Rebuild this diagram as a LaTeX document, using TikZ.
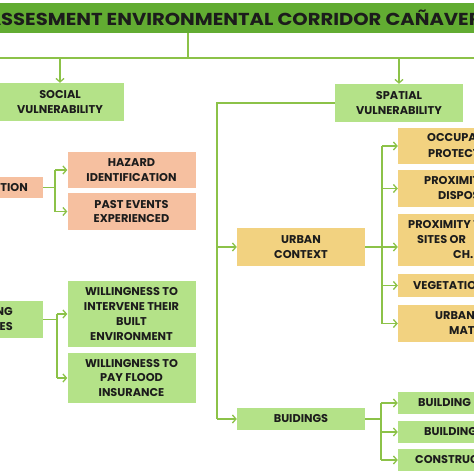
\documentclass[tikz,border=0pt]{standalone}
\usepackage{fontspec}
\setmainfont{Poppins}
\usetikzlibrary{arrows.meta}
\definecolor{titleg}{RGB}{98,172,50}
\definecolor{lineg}{RGB}{140,194,72}
\definecolor{boxg}{RGB}{180,226,136}
\definecolor{boxs}{RGB}{246,192,160}
\definecolor{boxy}{RGB}{242,210,128}
\definecolor{txt}{RGB}{28,28,28}
\tikzset{
  boxbase/.style={inner sep=0pt, minimum width=128, text=txt, align=center,
    font=\bfseries\fontsize{11.3}{14.7}\selectfont},
  gbox/.style={boxbase, fill=boxg},
  sbox/.style={boxbase, fill=boxs},
  ybox/.style={boxbase, fill=boxy},
  lbl/.style={inner sep=0pt, text=txt, font=\bfseries\fontsize{11.3}{14.7}\selectfont},
  conn/.style={draw=lineg, line width=1.5pt},
  arr/.style={conn, -{Straight Barb[length=3.5pt,width=8pt,line width=1.3pt]}},
}
\begin{document}
\begin{tikzpicture}[x=1pt,y=-1pt]
\useasboundingbox (0,0) rectangle (474,474);
\clip (0,0) rectangle (474,474);
\fill[white] (0,0) rectangle (474,474);
% title bar
\node[fill=titleg, inner sep=0pt, minimum width=500, minimum height=30] (titlebar) at (237,18) {};
\node[lbl, anchor=west, font=\bfseries\fontsize{17.3}{20}\selectfont] (title) at (1,18)
  {\scalebox{1.13}[1]{\llap{A}SSESMENT ENVIRONMENTAL CORRIDOR CAÑAVER\rlap{AL}}};
% level 1
\node[gbox, minimum height=38] (social) at (60,102) {SOCIAL\\VULNERABILITY};
\node[gbox, minimum height=38] (spatial) at (399,103) {SPATIAL\\VULNERABILITY};
% left side
\node[sbox, minimum height=21] (perc) at (-21,187.5) {};
\node[lbl, anchor=east] (perct) at (28,188) {PERCEPTION};
\node[sbox, minimum height=36] (hazard) at (131.5,170) {HAZARD\\IDENTIFICATION};
\node[sbox, minimum height=37] (past) at (131.5,211.5) {PAST EVENTS\\EXPERIENCED};
\node[gbox, minimum height=37] (cop) at (-21,319.5) {};
\node[lbl, anchor=east] (copt1) at (13,312) {COPING};
\node[lbl, anchor=east] (copt2) at (13,327) {CAPACITIES};
\node[gbox, minimum height=66] (will1) at (131.5,314) {WILLINGNESS TO\\INTERVENE THEIR\\BUILT\\ENVIRONMENT};
\node[gbox, minimum height=50] (will2) at (131.5,378) {WILLINGNESS TO\\PAY FLOOD\\INSURANCE};
% right side
\node[ybox, minimum height=38] (urban) at (301,247) {URBAN\\CONTEXT};
\node[gbox, minimum height=22] (build) at (301,419) {BUIDINGS};
\node[ybox, minimum height=36] (r1) at (462,146) {};
\node[lbl, anchor=west] (r1a) at (427,138) {OCCUPATION};
\node[lbl, anchor=west] (r1b) at (428,154) {PROTECTED};
\node[ybox, minimum height=37] (r2) at (462,188.5) {};
\node[lbl, anchor=west] (r2a) at (424,181) {PROXIMITY};
\node[lbl, anchor=west] (r2b) at (438,196) {DISPOSAL};
\node[ybox, minimum height=52] (r3) at (462,240) {};
\node[lbl, anchor=west] (r3a) at (408,225) {PROXIMITY TO};
\node[lbl, anchor=west] (r3b) at (417,240) {SITES OR};
\node[lbl, anchor=west] (r3c) at (453,255) {CH.};
\node[ybox, minimum height=23] (r4) at (462,285.5) {};
\node[lbl, anchor=west] (r4a) at (413,285.5) {VEGETATION};
\node[ybox, minimum height=37] (r5) at (462,323.5) {};
\node[lbl, anchor=west] (r5a) at (435,316) {URBAN};
\node[lbl, anchor=west] (r5b) at (449,331) {MATERIALS};
\node[gbox, minimum height=22] (b1) at (462,403) {};
\node[lbl, anchor=west] (b1a) at (418,403) {BUILDING};
\node[gbox, minimum height=22] (b2) at (462,432) {};
\node[lbl, anchor=west] (b2a) at (424,432) {BUILDING};
\node[gbox, minimum height=22] (b3) at (462,460) {};
\node[lbl, anchor=west] (b3a) at (415,460) {CONSTRUCTION};
% connectors: top
\coordinate (t0) at (188,58);
\coordinate (tl) at (-5,58);
\coordinate (tr) at (480,58);
\draw[conn] (titlebar.south -| t0) -- (t0);
\draw[conn] (tl) -- (tr);
\draw[arr] (social.north |- t0) -- (social.north);
\draw[arr] (spatial.north |- t0) -- (spatial.north);
% spatial branch
\coordinate (sv) at (217,0);
\draw[conn] (spatial.west) -- (spatial.west -| sv) -- (build.west -| sv);
\draw[arr] (build.west -| sv) -- (build.west);
\draw[arr] (urban.west -| sv) -- (urban.west);
% urban branch
\coordinate (uv) at (382,0);
\draw[conn] (urban.east) -- (urban.east -| uv);
\draw[conn] (r1.west -| uv) -- (r5.west -| uv);
\foreach \n in {r1,r2,r4,r5} \draw[arr] (\n.west -| uv) -- (\n.west);
\draw[arr] (urban.east -| uv) -- (urban.east -| r3.west);
% buildings branch
\coordinate (bv) at (381,0);
\draw[conn] (build.east) -- (build.east -| bv);
\draw[conn] (b1.west -| bv) -- (b3.west -| bv);
\foreach \n in {b1,b2,b3} \draw[arr] (\n.west -| bv) -- (\n.west);
% perception branch
\coordinate (pv) at (55,0);
\draw[conn] (perc.east) -- (perc.east -| pv);
\draw[conn] (hazard.west -| pv) -- (past.west -| pv);
\draw[arr] (hazard.west -| pv) -- (hazard.west);
\draw[arr] (past.west -| pv) -- (past.west);
% coping branch
\coordinate (cv) at (57,0);
\draw[conn] (cop.east) -- (cop.east -| cv);
\draw[conn] (will1.west -| cv) -- (will2.west -| cv);
\draw[arr] (will1.west -| cv) -- (will1.west);
\draw[arr] (will2.west -| cv) -- (will2.west);
\end{tikzpicture}
\end{document}
